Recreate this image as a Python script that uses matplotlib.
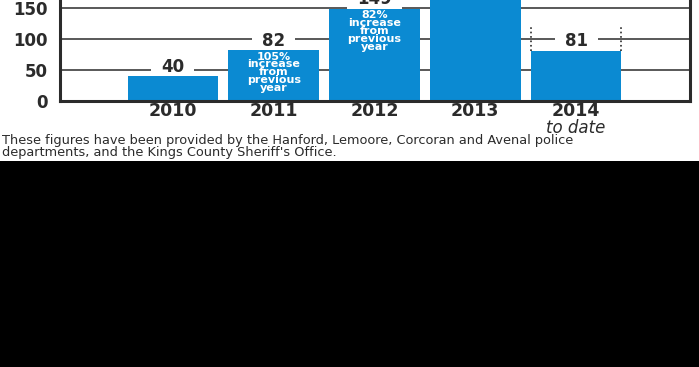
import numpy as np
import matplotlib; matplotlib.use('Agg')
import matplotlib.pyplot as plt
from matplotlib.patches import Rectangle

# data (2013 bar runs off the top, value estimated)
years = ['2010', '2011', '2012', '2013', '2014']
counts = [40, 82, 149, 186, 81]
inside_notes = ['', '105%\nincrease\nfrom\nprevious\nyear', '82%\nincrease\nfrom\nprevious\nyear', '', '']
yticks = [0, 50, 100, 150]
footnote = ("These figures have been provided by the Hanford, Lemoore, Corcoran and Avenal police\n"
            "departments, and the Kings County Sheriff's Office.")

blue = '#0b8ad2'
dark = '#2b2b2b'

W, H = 699, 367
fig = plt.figure(figsize=(W/100, H/100), dpi=100)
fig.patch.set_facecolor('white')

# black band at the bottom of the image
fig.patches.append(Rectangle((0, 0), 1, (H-161)/H, transform=fig.transFigure,
                             facecolor='black', edgecolor='none', zorder=0))

ax = fig.add_axes([60/W, (H-101)/H, 630/W, 101/H])
x = np.arange(len(years))
ax.bar(x, counts, width=0.9, color=blue, zorder=2)

ax.set_ylim(0, 101/0.62)
ax.set_xlim(-1.12, 5.13)
ax.set_yticks(yticks)
ax.set_yticklabels([str(v) for v in yticks], fontsize=12, fontweight='bold', color=dark)
ax.set_xticks(x)
ax.set_xticklabels(years, fontsize=12.5, fontweight='bold', color=dark)
ax.tick_params(axis='both', length=0)
ax.tick_params(axis='y', pad=9)
ax.tick_params(axis='x', pad=1.0)
ax.yaxis.grid(True, color=dark, linewidth=1.1, zorder=0.5)
ax.set_axisbelow(True)

for s in ['left', 'bottom', 'right']:
    ax.spines[s].set_color(dark)
    ax.spines[s].set_linewidth(2.2)
ax.spines['top'].set_visible(False)

# value labels sitting on the gridlines with a white knock-out box
for xi, v in zip(x, counts):
    ax.annotate(str(v), (xi, v), xytext=(0, 6.8), textcoords='offset points',
                ha='center', va='center', fontsize=12, fontweight='bold', color=dark,
                bbox=dict(boxstyle='square,pad=0.6', facecolor='white', edgecolor='none'),
                zorder=1, annotation_clip=True)

# notes inside the bars
for xi, v, note in zip(x, counts, inside_notes):
    if note:
        ax.annotate(note, (xi, v), xytext=(0, -1.0), textcoords='offset points',
                    ha='center', va='top', fontsize=8, fontweight='bold', color='white',
                    linespacing=0.74, zorder=3)

# dotted brackets for the partial year
ax.vlines([4-0.45, 4+0.45], 81, 120, colors=dark, linestyles=':', linewidth=1.2, zorder=3)

ax.annotate('to date', (4, 0), xycoords=('data', 'axes fraction'), xytext=(0, -19.3),
            textcoords='offset points', ha='center', va='center', fontsize=12,
            style='italic', color=dark, annotation_clip=False)

fig.text(2/W, (H-146.5)/H, footnote, ha='left', va='center', fontsize=9.3,
         color=dark, linespacing=0.82)

fig.savefig('out.png', dpi=100)
